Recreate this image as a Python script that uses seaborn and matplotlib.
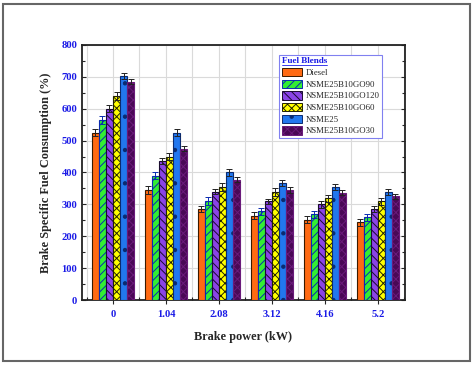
import numpy as np
import pandas as pd
import seaborn as sns
import matplotlib.pyplot as plt
from matplotlib.patches import Patch, Rectangle
from matplotlib.lines import Line2D
from matplotlib.ticker import MultipleLocator, FixedLocator

# --------------------------- DATA ---------------------------
power = ['0', '1.04', '2.08', '3.12', '4.16', '5.2']
blends = ['Diesel', 'NSME25B10GO90', 'NSME25B10GO120', 'NSME25B10GO60', 'NSME25', 'NSME25B10GO30']

diesel = [525, 345, 285, 265, 252, 244]
go90 = [565, 390, 310, 278, 269, 259]
go120 = [600, 435, 340, 309, 300, 285]
go60 = [640, 450, 355, 339, 319, 309]
nsme25 = [702, 525, 400, 367, 354, 339]
go30 = [685, 475, 377, 344, 337, 325]

err_diesel = [10, 12, 9, 10, 10, 11]
err_go90 = [13, 12, 12, 10, 11, 12]
err_go120 = [11, 9, 9, 9, 10, 9]
err_go60 = [12, 11, 12, 12, 11, 10]
err_nsme25 = [10, 10, 10, 9, 10, 9]
err_go30 = [8, 9, 8, 9, 9, 8]

series = [diesel, go90, go120, go60, nsme25, go30]
errors = [err_diesel, err_go90, err_go120, err_go60, err_nsme25, err_go30]

df = pd.DataFrame({
    'power': np.tile(power, len(blends)),
    'blend': np.repeat(blends, len(power)),
    'bsfc': np.concatenate(series),
})

# --------------------------- STYLE ---------------------------
sns.set_style("white")
plt.rcParams['font.family'] = ['Liberation Serif', 'DejaVu Serif']
plt.rcParams['hatch.linewidth'] = 0.7

face = ['#FF6A13', '#33EE33', '#8A44E6', '#FFFF00', '#2277EE', '#4A0856']
hatches = ['', '////', '\\\\\\\\', 'xxxx', '.', 'xxxx']
hatch_col = ['#3A1A00', '#0A2AB0', '#1A0A30', '#222200', '#0A2A70', '#6A1A7A']
blue = '#1A1AE6'

fig = plt.figure(figsize=(4.74, 3.65), dpi=100)
ax = fig.add_axes([0.173, 0.178, 0.681, 0.699])

sns.barplot(data=df, x='power', y='bsfc', hue='blend', hue_order=blends,
            order=power, width=0.8, legend=False, ax=ax, zorder=3)

bar_conts = list(ax.containers)
for i, cont in enumerate(bar_conts):
    for j, bar in enumerate(cont):
        bar.set_facecolor(face[i])
        bar.set_edgecolor(hatch_col[i])
        bar.set_hatch(hatches[i])
        bar.set_linewidth(0.8)
        cx = bar.get_x() + bar.get_width() / 2
        ax.errorbar(cx, bar.get_height(), yerr=errors[i][j], color='#222222' if i != 1 else '#0A2AB0',
                    capsize=2.4, elinewidth=0.7, capthick=0.7, zorder=4)

ax.set_xlim(-0.585, 5.51)
ax.set_ylim(0, 800)
ax.yaxis.set_major_locator(MultipleLocator(100))
ax.yaxis.set_minor_locator(MultipleLocator(50))
ax.xaxis.set_minor_locator(FixedLocator(np.arange(-0.5, 6, 1)))

ax.grid(True, which='major', color='#DADADA', lw=0.8, zorder=0)
ax.grid(True, which='minor', axis='x', color='#DADADA', lw=0.8, zorder=0)
ax.set_axisbelow(True)

ax.tick_params(axis='y', which='both', direction='in', left=True, right=True, length=3, width=0.8)
ax.tick_params(axis='y', which='minor', length=2)
ax.tick_params(axis='x', which='major', direction='out', bottom=True, length=3, width=0.8)
ax.tick_params(axis='x', which='minor', direction='in', bottom=True, length=2, width=0.8)
for lab in ax.get_xticklabels() + ax.get_yticklabels():
    lab.set_color(blue)
    lab.set_fontweight('bold')
    lab.set_fontsize(7.6)
ax.tick_params(axis='x', pad=4)

for s in ax.spines.values():
    s.set_color('#222222')
    s.set_linewidth(1.3)

ax.set_xlabel('Brake power (kW)', fontsize=8.8, fontweight='bold', labelpad=9)
ax.set_ylabel('Brake Specific Fuel Consumption (%)', fontsize=8.8, fontweight='bold', labelpad=7)

handles = [Patch(facecolor=face[i], edgecolor=hatch_col[i], hatch=hatches[i], lw=0.7) for i in range(len(blends))]
leg = ax.legend(handles, blends, loc='upper right', bbox_to_anchor=(0.929, 0.961), borderaxespad=0,
                fontsize=6.3, title='Fuel Blends', alignment='left', handlelength=2.3, handleheight=1.05,
                labelspacing=0.3, handletextpad=0.35, borderpad=0.3, fancybox=False, framealpha=1)
leg.get_frame().set_edgecolor('#8080F0')
leg.get_frame().set_linewidth(0.8)
ttl = leg.get_title()
ttl.set_color(blue)
ttl.set_fontweight('bold')
ttl.set_fontsize(6.6)

# underline the legend title
fig.canvas.draw()
bb = ttl.get_window_extent().transformed(fig.transFigure.inverted())
fig.add_artist(Line2D([bb.x0, bb.x1], [bb.y0 + 0.002, bb.y0 + 0.002], color=blue, lw=0.6,
                      transform=fig.transFigure, zorder=10))

# outer frame
fig.add_artist(Rectangle((3 / 474, 4 / 365), 467 / 474, 357 / 365, fill=False,
                         edgecolor='#666666', lw=1.5, transform=fig.transFigure))

fig.savefig('out.png', dpi=100)
